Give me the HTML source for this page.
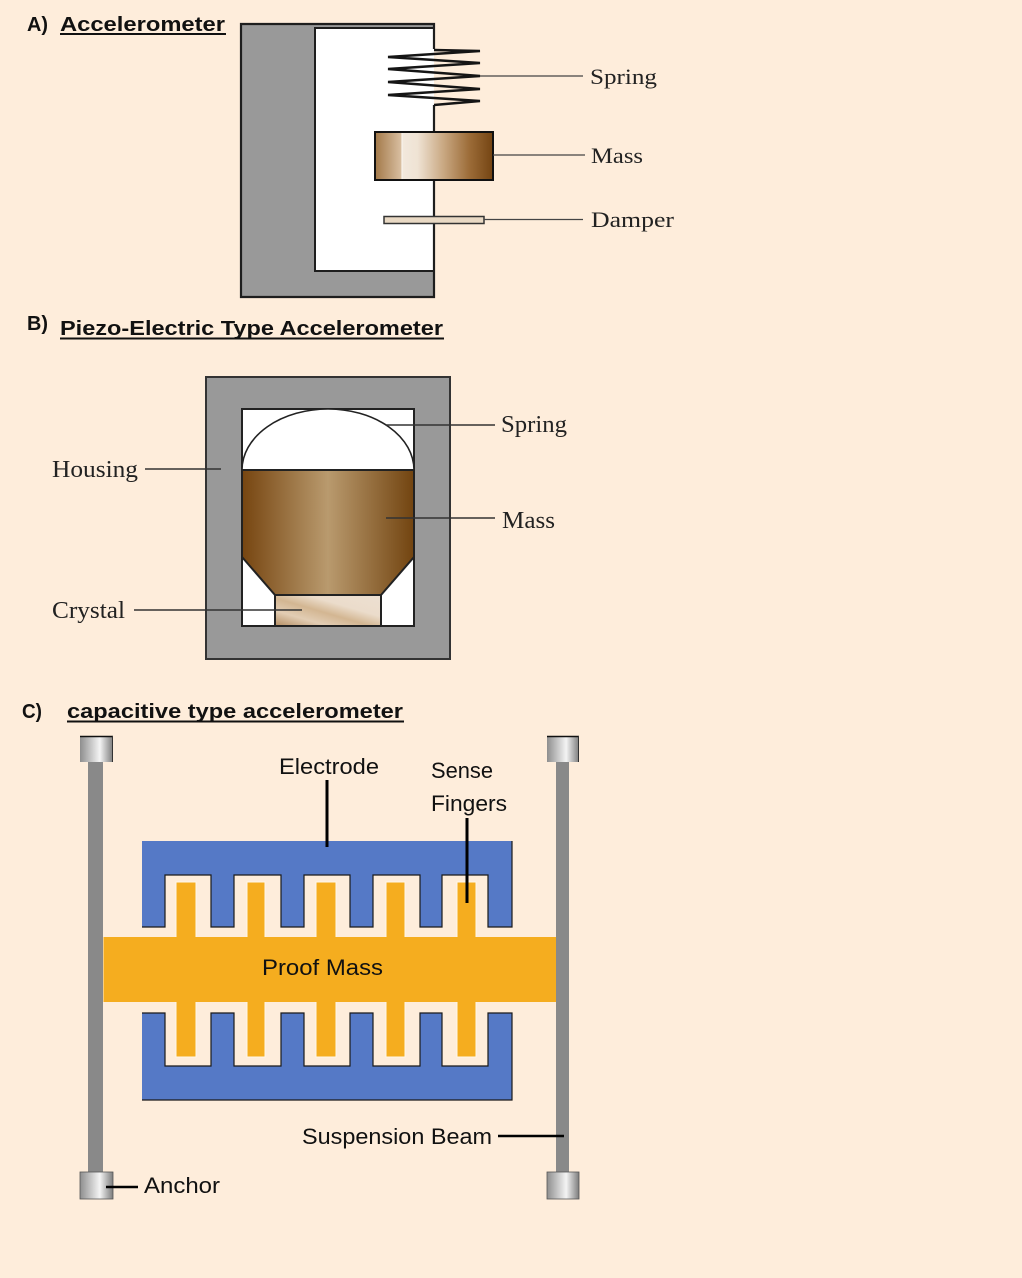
<!DOCTYPE html>
<html><head><meta charset="utf-8">
<style>
html,body{margin:0;padding:0;background:#feeddb;}
svg{display:block;}
</style></head>
<body>
<svg width="1022" height="1278" viewBox="0 0 1022 1278" xmlns="http://www.w3.org/2000/svg">
<defs>
  <linearGradient id="massA" x1="0" y1="0" x2="1" y2="0">
    <stop offset="0" stop-color="#a27848"/>
    <stop offset="0.22" stop-color="#d8bea0"/>
    <stop offset="0.235" stop-color="#f2e8dc"/>
    <stop offset="0.36" stop-color="#efe3d4"/>
    <stop offset="0.58" stop-color="#c9a882"/>
    <stop offset="0.8" stop-color="#9c6c38"/>
    <stop offset="1" stop-color="#744412"/>
  </linearGradient>
  <linearGradient id="massB" x1="0" y1="0" x2="1" y2="0">
    <stop offset="0" stop-color="#764510"/>
    <stop offset="0.5" stop-color="#b99a6e"/>
    <stop offset="1" stop-color="#724410"/>
  </linearGradient>
  <linearGradient id="crys" x1="0" y1="1" x2="1" y2="0">
    <stop offset="0" stop-color="#b38d62"/>
    <stop offset="0.25" stop-color="#e2cdb4"/>
    <stop offset="0.45" stop-color="#d3b692"/>
    <stop offset="0.65" stop-color="#ebdccb"/>
    <stop offset="1" stop-color="#ede0d2"/>
  </linearGradient>
  <linearGradient id="anch" x1="0" y1="0" x2="1" y2="0">
    <stop offset="0" stop-color="#8e8e8e"/>
    <stop offset="0.6" stop-color="#f4f4f4"/>
    <stop offset="1" stop-color="#7c7c7c"/>
  </linearGradient>
</defs>

<!-- ============ A ============ -->
<text x="27" y="31" font-family="Liberation Sans, sans-serif" font-weight="bold" font-size="20" fill="#111" textLength="21" lengthAdjust="spacingAndGlyphs">A)</text>
<text x="60" y="31" font-family="Liberation Sans, sans-serif" font-weight="bold" font-size="20" fill="#111" textLength="165" lengthAdjust="spacingAndGlyphs">Accelerometer</text>
<rect x="60" y="33" width="166" height="2" fill="#111"/>

<rect x="241" y="24" width="193" height="273" fill="#999999"/>
<rect x="315" y="28" width="119" height="243" fill="#ffffff"/>
<path d="M434,49 L434,24 L241,24 L241,297 L434,297 L434,105" fill="none" stroke="#1e1e1e" stroke-width="2.2"/>
<path d="M434,28 L315,28 L315,271 L434,271" fill="none" stroke="#1e1e1e" stroke-width="2"/>
<polyline points="434,50 480,51 388,57 480,63 388,69 480,76 388,82 480,89 388,95 480,101 434,105" fill="none" stroke="#151515" stroke-width="2.4" stroke-linejoin="miter"/>
<line x1="480" y1="76" x2="583" y2="76" stroke="#444" stroke-width="1.2"/>
<rect x="375" y="132" width="118" height="48" fill="url(#massA)" stroke="#111" stroke-width="2"/>
<line x1="402" y1="133" x2="402" y2="179" stroke="#fbf6f0" stroke-width="1"/>
<line x1="493" y1="155" x2="585" y2="155" stroke="#444" stroke-width="1.2"/>
<rect x="384" y="216.5" width="100" height="7" fill="#e9d9c4" stroke="#333" stroke-width="1.5"/>
<line x1="484" y1="219.5" x2="583" y2="219.5" stroke="#444" stroke-width="1.2"/>

<text x="590" y="84" font-family="Liberation Serif, serif" font-size="22" fill="#222" textLength="67" lengthAdjust="spacingAndGlyphs">Spring</text>
<text x="591" y="163" font-family="Liberation Serif, serif" font-size="22" fill="#222" textLength="52" lengthAdjust="spacingAndGlyphs">Mass</text>
<text x="591" y="227" font-family="Liberation Serif, serif" font-size="22" fill="#222" textLength="83" lengthAdjust="spacingAndGlyphs">Damper</text>

<!-- ============ B ============ -->
<text x="27" y="330" font-family="Liberation Sans, sans-serif" font-weight="bold" font-size="20" fill="#111" textLength="21" lengthAdjust="spacingAndGlyphs">B)</text>
<text x="60" y="335" font-family="Liberation Sans, sans-serif" font-weight="bold" font-size="20" fill="#111" textLength="383" lengthAdjust="spacingAndGlyphs">Piezo-Electric Type Accelerometer</text>
<rect x="60" y="337.5" width="384" height="2" fill="#111"/>

<rect x="206" y="377" width="244" height="282" fill="#999999" stroke="#333" stroke-width="2"/>
<rect x="242" y="409" width="172" height="217" fill="#ffffff" stroke="#222" stroke-width="2"/>
<path d="M242,470 A86,61 0 0 1 414,470" fill="#ffffff" stroke="#222" stroke-width="1.6"/>
<path d="M242,470 L414,470 L414,557 L381,595 L275,595 L242,557 Z" fill="url(#massB)" stroke="#222" stroke-width="2"/>
<rect x="275" y="595" width="106" height="31" fill="url(#crys)" stroke="#222" stroke-width="2"/>

<line x1="386" y1="425" x2="495" y2="425" stroke="#333" stroke-width="1.4"/>
<line x1="145" y1="469" x2="221" y2="469" stroke="#333" stroke-width="1.4"/>
<line x1="386" y1="518" x2="495" y2="518" stroke="#333" stroke-width="1.4"/>
<line x1="134" y1="610" x2="302" y2="610" stroke="#333" stroke-width="1.4"/>

<text x="52" y="477" font-family="Liberation Serif, serif" font-size="24" fill="#222" textLength="86" lengthAdjust="spacingAndGlyphs">Housing</text>
<text x="501" y="432" font-family="Liberation Serif, serif" font-size="24" fill="#222" textLength="66" lengthAdjust="spacingAndGlyphs">Spring</text>
<text x="502" y="528" font-family="Liberation Serif, serif" font-size="24" fill="#222" textLength="53" lengthAdjust="spacingAndGlyphs">Mass</text>
<text x="52" y="618" font-family="Liberation Serif, serif" font-size="24" fill="#222" textLength="73" lengthAdjust="spacingAndGlyphs">Crystal</text>

<!-- ============ C ============ -->
<text x="22" y="718" font-family="Liberation Sans, sans-serif" font-weight="bold" font-size="20" fill="#111" textLength="20" lengthAdjust="spacingAndGlyphs">C)</text>
<text x="67" y="718" font-family="Liberation Sans, sans-serif" font-weight="bold" font-size="20" fill="#111" textLength="336" lengthAdjust="spacingAndGlyphs">capacitive type accelerometer</text>
<rect x="67" y="720.5" width="337" height="2" fill="#111"/>

<!-- beams -->
<rect x="88" y="760" width="15" height="414" fill="#898989"/>
<rect x="556" y="760" width="13" height="414" fill="#898989"/>
<!-- anchors -->
<rect x="80" y="736" width="33" height="26" fill="url(#anch)"/>
<line x1="80" y1="736.5" x2="113" y2="736.5" stroke="#111" stroke-width="1.5"/>
<line x1="112.5" y1="736" x2="112.5" y2="762" stroke="#333" stroke-width="1"/>
<rect x="547" y="736" width="32" height="26" fill="url(#anch)"/>
<line x1="547" y1="736.5" x2="579" y2="736.5" stroke="#111" stroke-width="1.5"/>
<line x1="578.5" y1="736" x2="578.5" y2="762" stroke="#333" stroke-width="1"/>
<rect x="80" y="1172" width="33" height="27" fill="url(#anch)" stroke="#555" stroke-width="0.8"/>
<rect x="547" y="1172" width="32" height="27" fill="url(#anch)" stroke="#555" stroke-width="0.8"/>

<!-- upper electrode -->
<path d="M142,841 H512 V927 H488 V875 H442 V927 H420 V875 H373 V927 H350 V875 H304 V927 H281 V875 H234 V927 H211 V875 H165 V927 H142 Z" fill="#5579c6"/>
<path d="M142,927 H165 V875 H211 V927 H234 V875 H281 V927 H304 V875 H350 V927 H373 V875 H420 V927 H442 V875 H488 V927 H512 V841" fill="none" stroke="#1a1a1a" stroke-width="1.2"/>

<!-- lower electrode -->
<path d="M142,1100 H512 V1013 H488 V1066 H442 V1013 H420 V1066 H373 V1013 H350 V1066 H304 V1013 H281 V1066 H234 V1013 H211 V1066 H165 V1013 H142 Z" fill="#5579c6"/>
<path d="M142,1013 H165 V1066 H211 V1013 H234 V1066 H281 V1013 H304 V1066 H350 V1013 H373 V1066 H420 V1013 H442 V1066 H488 V1013 H512 V1100 H142" fill="none" stroke="#1a1a1a" stroke-width="1.2"/>

<!-- proof mass + fingers -->
<g fill="#f5ad1f" stroke="#fff6ea" stroke-width="1">
  <rect x="176" y="882" width="20" height="60"/>
  <rect x="247" y="882" width="18" height="60"/>
  <rect x="316" y="882" width="20" height="60"/>
  <rect x="386" y="882" width="19" height="60"/>
  <rect x="457" y="882" width="19" height="60"/>
  <rect x="176" y="997" width="20" height="60"/>
  <rect x="247" y="997" width="18" height="60"/>
  <rect x="316" y="997" width="20" height="60"/>
  <rect x="386" y="997" width="19" height="60"/>
  <rect x="457" y="997" width="19" height="60"/>
</g>
<rect x="103.5" y="937" width="452.5" height="65" fill="#f5ad1f"/>

<!-- labels C -->
<text x="279" y="774" font-family="Liberation Sans, sans-serif" font-size="22" fill="#111" textLength="100" lengthAdjust="spacingAndGlyphs">Electrode</text>
<text x="431" y="778" font-family="Liberation Sans, sans-serif" font-size="22" fill="#111" textLength="62" lengthAdjust="spacingAndGlyphs">Sense</text>
<text x="431" y="811" font-family="Liberation Sans, sans-serif" font-size="22" fill="#111" textLength="76" lengthAdjust="spacingAndGlyphs">Fingers</text>
<text x="262" y="975" font-family="Liberation Sans, sans-serif" font-size="22" fill="#111" textLength="121" lengthAdjust="spacingAndGlyphs">Proof Mass</text>
<text x="302" y="1144" font-family="Liberation Sans, sans-serif" font-size="22" fill="#111" textLength="190" lengthAdjust="spacingAndGlyphs">Suspension Beam</text>
<text x="144" y="1193" font-family="Liberation Sans, sans-serif" font-size="22" fill="#111" textLength="76" lengthAdjust="spacingAndGlyphs">Anchor</text>

<line x1="327" y1="780" x2="327" y2="847" stroke="#000" stroke-width="3"/>
<line x1="467" y1="818" x2="467" y2="903" stroke="#000" stroke-width="3"/>
<line x1="498" y1="1136" x2="564" y2="1136" stroke="#000" stroke-width="2.5"/>
<line x1="106" y1="1187" x2="138" y2="1187" stroke="#000" stroke-width="2.5"/>
</svg>
</body></html>
